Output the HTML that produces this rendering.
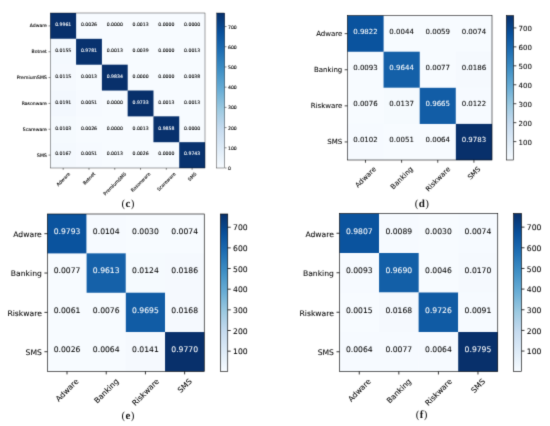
<!DOCTYPE html>
<html><head><meta charset="utf-8"><title>Confusion matrices</title>
<style>html,body{margin:0;padding:0;background:#fff}svg{display:block}#fig{width:550px;height:426px;overflow:hidden}</style>
</head><body>
<div id="fig">
<svg width="550" height="426" viewBox="0 0 550 426" text-rendering="geometricPrecision">
<defs><linearGradient id="bl" x1="0" y1="1" x2="0" y2="0">
<stop offset="0.0000" stop-color="#f7fbff"/>
<stop offset="0.0625" stop-color="#eaf3fb"/>
<stop offset="0.1250" stop-color="#deebf7"/>
<stop offset="0.1875" stop-color="#d2e3f3"/>
<stop offset="0.2500" stop-color="#c6dbef"/>
<stop offset="0.3125" stop-color="#b2d2e8"/>
<stop offset="0.3750" stop-color="#9dcae1"/>
<stop offset="0.4375" stop-color="#84bcdb"/>
<stop offset="0.5000" stop-color="#6aaed6"/>
<stop offset="0.5625" stop-color="#56a0ce"/>
<stop offset="0.6250" stop-color="#4191c6"/>
<stop offset="0.6875" stop-color="#3181bd"/>
<stop offset="0.7500" stop-color="#2070b4"/>
<stop offset="0.8125" stop-color="#1460a8"/>
<stop offset="0.8750" stop-color="#08509b"/>
<stop offset="0.9375" stop-color="#084082"/>
<stop offset="1.0000" stop-color="#08306b"/>
</linearGradient>
<filter id="soft" x="0" y="0" width="550" height="426" filterUnits="userSpaceOnUse" color-interpolation-filters="sRGB"><feConvolveMatrix order="3" kernelMatrix="0.01440 0.09120 0.01440 0.09120 0.57760 0.09120 0.01440 0.09120 0.01440" edgeMode="duplicate" preserveAlpha="true"/></filter></defs>
<g filter="url(#soft)">
<rect width="550" height="426" fill="#ffffff"/>
<g font-family="'DejaVu Sans','Liberation Sans',sans-serif" font-size="4.600" fill="#000" stroke="#000" stroke-width="0.100">
<rect x="50.30" y="13.00" width="154.70" height="155.00" fill="#f7fbff" stroke="none"/>
<rect x="50.30" y="13.00" width="25.83" height="25.88" fill="#08306b" stroke="none"/>
<rect x="50.30" y="38.83" width="25.83" height="25.88" fill="#f4f9fe" stroke="none"/>
<rect x="76.08" y="38.83" width="25.83" height="25.88" fill="#08326e" stroke="none"/>
<rect x="50.30" y="64.67" width="25.83" height="25.88" fill="#f5f9fe" stroke="none"/>
<rect x="101.87" y="64.67" width="25.83" height="25.88" fill="#08306b" stroke="none"/>
<rect x="50.30" y="90.50" width="25.83" height="25.88" fill="#f3f8fe" stroke="none"/>
<rect x="76.08" y="90.50" width="25.83" height="25.88" fill="#f6faff" stroke="none"/>
<rect x="127.65" y="90.50" width="25.83" height="25.88" fill="#08306b" stroke="none"/>
<rect x="50.30" y="116.33" width="25.83" height="25.88" fill="#f5fafe" stroke="none"/>
<rect x="153.43" y="116.33" width="25.83" height="25.88" fill="#08316d" stroke="none"/>
<rect x="50.30" y="142.17" width="25.83" height="25.88" fill="#f4f9fe" stroke="none"/>
<rect x="76.08" y="142.17" width="25.83" height="25.88" fill="#f6faff" stroke="none"/>
<rect x="179.22" y="142.17" width="25.83" height="25.88" fill="#08326e" stroke="none"/>
<text transform="translate(63.19 26.27)" text-anchor="middle" fill="#fff" stroke="#fff">0.9961</text>
<text transform="translate(88.97 26.27)" text-anchor="middle" fill="#000" stroke="#000">0.0026</text>
<text transform="translate(114.76 26.27)" text-anchor="middle" fill="#000" stroke="#000">0.0000</text>
<text transform="translate(140.54 26.27)" text-anchor="middle" fill="#000" stroke="#000">0.0013</text>
<text transform="translate(166.32 26.27)" text-anchor="middle" fill="#000" stroke="#000">0.0000</text>
<text transform="translate(192.11 26.27)" text-anchor="middle" fill="#000" stroke="#000">0.0000</text>
<text transform="translate(63.19 52.10)" text-anchor="middle" fill="#000" stroke="#000">0.0155</text>
<text transform="translate(88.97 52.10)" text-anchor="middle" fill="#fff" stroke="#fff">0.9781</text>
<text transform="translate(114.76 52.10)" text-anchor="middle" fill="#000" stroke="#000">0.0013</text>
<text transform="translate(140.54 52.10)" text-anchor="middle" fill="#000" stroke="#000">0.0039</text>
<text transform="translate(166.32 52.10)" text-anchor="middle" fill="#000" stroke="#000">0.0000</text>
<text transform="translate(192.11 52.10)" text-anchor="middle" fill="#000" stroke="#000">0.0013</text>
<text transform="translate(63.19 77.93)" text-anchor="middle" fill="#000" stroke="#000">0.0115</text>
<text transform="translate(88.97 77.93)" text-anchor="middle" fill="#000" stroke="#000">0.0013</text>
<text transform="translate(114.76 77.93)" text-anchor="middle" fill="#fff" stroke="#fff">0.9834</text>
<text transform="translate(140.54 77.93)" text-anchor="middle" fill="#000" stroke="#000">0.0000</text>
<text transform="translate(166.32 77.93)" text-anchor="middle" fill="#000" stroke="#000">0.0000</text>
<text transform="translate(192.11 77.93)" text-anchor="middle" fill="#000" stroke="#000">0.0038</text>
<text transform="translate(63.19 103.77)" text-anchor="middle" fill="#000" stroke="#000">0.0191</text>
<text transform="translate(88.97 103.77)" text-anchor="middle" fill="#000" stroke="#000">0.0051</text>
<text transform="translate(114.76 103.77)" text-anchor="middle" fill="#000" stroke="#000">0.0000</text>
<text transform="translate(140.54 103.77)" text-anchor="middle" fill="#fff" stroke="#fff">0.9733</text>
<text transform="translate(166.32 103.77)" text-anchor="middle" fill="#000" stroke="#000">0.0013</text>
<text transform="translate(192.11 103.77)" text-anchor="middle" fill="#000" stroke="#000">0.0013</text>
<text transform="translate(63.19 129.60)" text-anchor="middle" fill="#000" stroke="#000">0.0103</text>
<text transform="translate(88.97 129.60)" text-anchor="middle" fill="#000" stroke="#000">0.0026</text>
<text transform="translate(114.76 129.60)" text-anchor="middle" fill="#000" stroke="#000">0.0000</text>
<text transform="translate(140.54 129.60)" text-anchor="middle" fill="#000" stroke="#000">0.0013</text>
<text transform="translate(166.32 129.60)" text-anchor="middle" fill="#fff" stroke="#fff">0.9858</text>
<text transform="translate(192.11 129.60)" text-anchor="middle" fill="#000" stroke="#000">0.0000</text>
<text transform="translate(63.19 155.43)" text-anchor="middle" fill="#000" stroke="#000">0.0167</text>
<text transform="translate(88.97 155.43)" text-anchor="middle" fill="#000" stroke="#000">0.0051</text>
<text transform="translate(114.76 155.43)" text-anchor="middle" fill="#000" stroke="#000">0.0013</text>
<text transform="translate(140.54 155.43)" text-anchor="middle" fill="#000" stroke="#000">0.0026</text>
<text transform="translate(166.32 155.43)" text-anchor="middle" fill="#000" stroke="#000">0.0000</text>
<text transform="translate(192.11 155.43)" text-anchor="middle" fill="#fff" stroke="#fff">0.9743</text>
<rect x="50.30" y="13.00" width="154.70" height="155.00" fill="none" stroke="#000" stroke-width="0.368"/>
<text transform="translate(46.88 27.47)" text-anchor="end">Adware</text>
<text transform="translate(63.19 179.18) rotate(-45)" text-anchor="middle" y="1.66">Adware</text>
<text transform="translate(46.88 53.31)" text-anchor="end">Botnet</text>
<text transform="translate(88.97 178.52) rotate(-45)" text-anchor="middle" y="1.66">Botnet</text>
<text transform="translate(46.88 79.14)" text-anchor="end">PremiumSMS</text>
<text transform="translate(114.76 183.81) rotate(-45)" text-anchor="middle" y="1.66">PremiumSMS</text>
<text transform="translate(46.88 104.97)" text-anchor="end">Rasonware</text>
<text transform="translate(140.54 182.03) rotate(-45)" text-anchor="middle" y="1.66">Rasonware</text>
<text transform="translate(46.88 130.81)" text-anchor="end">Scareware</text>
<text transform="translate(166.32 181.62) rotate(-45)" text-anchor="middle" y="1.66">Scareware</text>
<text transform="translate(46.88 156.64)" text-anchor="end">SMS</text>
<text transform="translate(192.11 176.57) rotate(-45)" text-anchor="middle" y="1.66">SMS</text>
<rect x="216.75" y="13.00" width="8.00" height="155.00" fill="url(#bl)" stroke="#000" stroke-width="0.368"/>
<text transform="translate(227.97 170.06)">0</text>
<text transform="translate(227.97 149.85)">100</text>
<text transform="translate(227.97 129.64)">200</text>
<text transform="translate(227.97 109.43)">300</text>
<text transform="translate(227.97 89.22)">400</text>
<text transform="translate(227.97 69.01)">500</text>
<text transform="translate(227.97 48.80)">600</text>
<text transform="translate(227.97 28.60)">700</text>
<path d="M50.30 25.92h-1.79M63.19 168.00v1.79M50.30 51.75h-1.79M88.97 168.00v1.79M50.30 77.58h-1.79M114.76 168.00v1.79M50.30 103.42h-1.79M140.54 168.00v1.79M50.30 129.25h-1.79M166.32 168.00v1.79M50.30 155.08h-1.79M192.11 168.00v1.79M224.75 168.00h1.79M224.75 147.79h1.79M224.75 127.58h1.79M224.75 107.37h1.79M224.75 87.17h1.79M224.75 66.96h1.79M224.75 46.75h1.79M224.75 26.54h1.79" stroke="#000" stroke-width="0.478" fill="none"/>
</g>
<text x="128.10" y="207.20" text-anchor="middle" font-family="'Liberation Serif','DejaVu Serif',serif" font-size="11" letter-spacing="0.35" fill="#111">(<tspan font-weight="bold">c</tspan>)</text>
<g font-family="'DejaVu Sans','Liberation Sans',sans-serif" font-size="7.000" fill="#000" stroke="#000" stroke-width="0.060">
<rect x="347.40" y="15.60" width="144.60" height="144.40" fill="#f7fbff" stroke="none"/>
<rect x="347.40" y="15.60" width="36.20" height="36.15" fill="#0a539e" stroke="none"/>
<rect x="383.55" y="51.70" width="36.20" height="36.15" fill="#1460a8" stroke="none"/>
<rect x="455.85" y="51.70" width="36.20" height="36.15" fill="#f5f9fe" stroke="none"/>
<rect x="383.55" y="87.80" width="36.20" height="36.15" fill="#f5fafe" stroke="none"/>
<rect x="419.70" y="87.80" width="36.20" height="36.15" fill="#125da6" stroke="none"/>
<rect x="455.85" y="87.80" width="36.20" height="36.15" fill="#f6faff" stroke="none"/>
<rect x="347.40" y="123.90" width="36.20" height="36.15" fill="#f6faff" stroke="none"/>
<rect x="455.85" y="123.90" width="36.20" height="36.15" fill="#08306b" stroke="none"/>
<text transform="translate(365.47 33.60)" text-anchor="middle" fill="#fff" stroke="#fff">0.9822</text>
<text transform="translate(401.62 33.60)" text-anchor="middle" fill="#000" stroke="#000">0.0044</text>
<text transform="translate(437.77 33.60)" text-anchor="middle" fill="#000" stroke="#000">0.0059</text>
<text transform="translate(473.93 33.60)" text-anchor="middle" fill="#000" stroke="#000">0.0074</text>
<text transform="translate(365.47 69.70)" text-anchor="middle" fill="#000" stroke="#000">0.0093</text>
<text transform="translate(401.62 69.70)" text-anchor="middle" fill="#fff" stroke="#fff">0.9644</text>
<text transform="translate(437.77 69.70)" text-anchor="middle" fill="#000" stroke="#000">0.0077</text>
<text transform="translate(473.93 69.70)" text-anchor="middle" fill="#000" stroke="#000">0.0186</text>
<text transform="translate(365.47 105.80)" text-anchor="middle" fill="#000" stroke="#000">0.0076</text>
<text transform="translate(401.62 105.80)" text-anchor="middle" fill="#000" stroke="#000">0.0137</text>
<text transform="translate(437.77 105.80)" text-anchor="middle" fill="#fff" stroke="#fff">0.9665</text>
<text transform="translate(473.93 105.80)" text-anchor="middle" fill="#000" stroke="#000">0.0122</text>
<text transform="translate(365.47 141.90)" text-anchor="middle" fill="#000" stroke="#000">0.0102</text>
<text transform="translate(401.62 141.90)" text-anchor="middle" fill="#000" stroke="#000">0.0051</text>
<text transform="translate(437.77 141.90)" text-anchor="middle" fill="#000" stroke="#000">0.0064</text>
<text transform="translate(473.93 141.90)" text-anchor="middle" fill="#fff" stroke="#fff">0.9783</text>
<rect x="347.40" y="15.60" width="144.60" height="144.40" fill="none" stroke="#000" stroke-width="0.560"/>
<text transform="translate(342.30 36.12)" text-anchor="end">Adware</text>
<text transform="translate(365.47 177.02) rotate(-45)" text-anchor="middle" y="2.52">Adware</text>
<text transform="translate(342.30 72.22)" text-anchor="end">Banking</text>
<text transform="translate(401.62 177.81) rotate(-45)" text-anchor="middle" y="2.52">Banking</text>
<text transform="translate(342.30 108.32)" text-anchor="end">Riskware</text>
<text transform="translate(437.77 178.93) rotate(-45)" text-anchor="middle" y="2.52">Riskware</text>
<text transform="translate(342.30 144.42)" text-anchor="end">SMS</text>
<text transform="translate(473.93 173.05) rotate(-45)" text-anchor="middle" y="2.52">SMS</text>
<rect x="506.40" y="15.60" width="7.20" height="144.40" fill="url(#bl)" stroke="#000" stroke-width="0.560"/>
<text transform="translate(518.50 144.54)">100</text>
<text transform="translate(518.50 125.59)">200</text>
<text transform="translate(518.50 106.64)">300</text>
<text transform="translate(518.50 87.69)">400</text>
<text transform="translate(518.50 68.74)">500</text>
<text transform="translate(518.50 49.79)">600</text>
<text transform="translate(518.50 30.84)">700</text>
<path d="M347.40 33.65h-2.73M365.47 160.00v2.73M347.40 69.75h-2.73M401.62 160.00v2.73M347.40 105.85h-2.73M437.77 160.00v2.73M347.40 141.95h-2.73M473.93 160.00v2.73M513.60 141.62h2.73M513.60 122.67h2.73M513.60 103.72h2.73M513.60 84.77h2.73M513.60 65.82h2.73M513.60 46.87h2.73M513.60 27.92h2.73" stroke="#000" stroke-width="0.728" fill="none"/>
</g>
<text x="422.00" y="207.20" text-anchor="middle" font-family="'Liberation Serif','DejaVu Serif',serif" font-size="11" letter-spacing="0.35" fill="#111">(<tspan font-weight="bold">d</tspan>)</text>
<g font-family="'DejaVu Sans','Liberation Sans',sans-serif" font-size="7.650" fill="#000" stroke="#000" stroke-width="0.060">
<rect x="47.40" y="214.00" width="156.85" height="157.40" fill="#f7fbff" stroke="none"/>
<rect x="47.40" y="214.00" width="39.26" height="39.40" fill="#0a539e" stroke="none"/>
<rect x="86.61" y="214.00" width="39.26" height="39.40" fill="#f6faff" stroke="none"/>
<rect x="86.61" y="253.35" width="39.26" height="39.40" fill="#1561a9" stroke="none"/>
<rect x="125.82" y="253.35" width="39.26" height="39.40" fill="#f5fafe" stroke="none"/>
<rect x="165.04" y="253.35" width="39.26" height="39.40" fill="#f5f9fe" stroke="none"/>
<rect x="125.82" y="292.70" width="39.26" height="39.40" fill="#115ca5" stroke="none"/>
<rect x="165.04" y="292.70" width="39.26" height="39.40" fill="#f5f9fe" stroke="none"/>
<rect x="125.82" y="332.05" width="39.26" height="39.40" fill="#f5f9fe" stroke="none"/>
<rect x="165.04" y="332.05" width="39.26" height="39.40" fill="#08306b" stroke="none"/>
<text transform="translate(67.01 233.83)" text-anchor="middle" fill="#fff" stroke="#fff">0.9793</text>
<text transform="translate(106.22 233.83)" text-anchor="middle" fill="#000" stroke="#000">0.0104</text>
<text transform="translate(145.43 233.83)" text-anchor="middle" fill="#000" stroke="#000">0.0030</text>
<text transform="translate(184.64 233.83)" text-anchor="middle" fill="#000" stroke="#000">0.0074</text>
<text transform="translate(67.01 273.17)" text-anchor="middle" fill="#000" stroke="#000">0.0077</text>
<text transform="translate(106.22 273.17)" text-anchor="middle" fill="#fff" stroke="#fff">0.9613</text>
<text transform="translate(145.43 273.17)" text-anchor="middle" fill="#000" stroke="#000">0.0124</text>
<text transform="translate(184.64 273.17)" text-anchor="middle" fill="#000" stroke="#000">0.0186</text>
<text transform="translate(67.01 312.52)" text-anchor="middle" fill="#000" stroke="#000">0.0061</text>
<text transform="translate(106.22 312.52)" text-anchor="middle" fill="#000" stroke="#000">0.0076</text>
<text transform="translate(145.43 312.52)" text-anchor="middle" fill="#fff" stroke="#fff">0.9695</text>
<text transform="translate(184.64 312.52)" text-anchor="middle" fill="#000" stroke="#000">0.0168</text>
<text transform="translate(67.01 351.87)" text-anchor="middle" fill="#000" stroke="#000">0.0026</text>
<text transform="translate(106.22 351.87)" text-anchor="middle" fill="#000" stroke="#000">0.0064</text>
<text transform="translate(145.43 351.87)" text-anchor="middle" fill="#000" stroke="#000">0.0141</text>
<text transform="translate(184.64 351.87)" text-anchor="middle" fill="#fff" stroke="#fff">0.9770</text>
<rect x="47.40" y="214.00" width="156.85" height="157.40" fill="none" stroke="#000" stroke-width="0.612"/>
<text transform="translate(41.84 236.88)" text-anchor="end">Adware</text>
<text transform="translate(67.01 390.00) rotate(-45)" text-anchor="middle" y="2.75">Adware</text>
<text transform="translate(41.84 276.23)" text-anchor="end">Banking</text>
<text transform="translate(106.22 390.87) rotate(-45)" text-anchor="middle" y="2.75">Banking</text>
<text transform="translate(41.84 315.58)" text-anchor="end">Riskware</text>
<text transform="translate(145.43 392.09) rotate(-45)" text-anchor="middle" y="2.75">Riskware</text>
<text transform="translate(41.84 354.93)" text-anchor="end">SMS</text>
<text transform="translate(184.64 385.66) rotate(-45)" text-anchor="middle" y="2.75">SMS</text>
<rect x="220.50" y="214.00" width="7.25" height="157.40" fill="url(#bl)" stroke="#000" stroke-width="0.612"/>
<text transform="translate(233.10 354.31)">100</text>
<text transform="translate(233.10 333.65)">200</text>
<text transform="translate(233.10 313.00)">300</text>
<text transform="translate(233.10 292.34)">400</text>
<text transform="translate(233.10 271.69)">500</text>
<text transform="translate(233.10 251.03)">600</text>
<text transform="translate(233.10 230.37)">700</text>
<path d="M47.40 233.68h-2.98M67.01 371.40v2.98M47.40 273.02h-2.98M106.22 371.40v2.98M47.40 312.38h-2.98M145.43 371.40v2.98M47.40 351.72h-2.98M184.64 371.40v2.98M227.75 351.16h2.98M227.75 330.50h2.98M227.75 309.84h2.98M227.75 289.19h2.98M227.75 268.53h2.98M227.75 247.88h2.98M227.75 227.22h2.98" stroke="#000" stroke-width="0.796" fill="none"/>
</g>
<text x="128.10" y="418.80" text-anchor="middle" font-family="'Liberation Serif','DejaVu Serif',serif" font-size="11" letter-spacing="0.35" fill="#111">(<tspan font-weight="bold">e</tspan>)</text>
<g font-family="'DejaVu Sans','Liberation Sans',sans-serif" font-size="7.650" fill="#000" stroke="#000" stroke-width="0.060">
<rect x="339.50" y="213.50" width="158.25" height="158.00" fill="#f7fbff" stroke="none"/>
<rect x="339.50" y="213.50" width="39.61" height="39.55" fill="#0a539e" stroke="none"/>
<rect x="379.06" y="213.50" width="39.61" height="39.55" fill="#f6faff" stroke="none"/>
<rect x="458.19" y="213.50" width="39.61" height="39.55" fill="#f6faff" stroke="none"/>
<rect x="339.50" y="253.00" width="39.61" height="39.55" fill="#f6faff" stroke="none"/>
<rect x="379.06" y="253.00" width="39.61" height="39.55" fill="#135fa7" stroke="none"/>
<rect x="458.19" y="253.00" width="39.61" height="39.55" fill="#f5f9fe" stroke="none"/>
<rect x="379.06" y="292.50" width="39.61" height="39.55" fill="#f5f9fe" stroke="none"/>
<rect x="418.62" y="292.50" width="39.61" height="39.55" fill="#105ba4" stroke="none"/>
<rect x="458.19" y="292.50" width="39.61" height="39.55" fill="#f6faff" stroke="none"/>
<rect x="339.50" y="332.00" width="39.61" height="39.55" fill="#f6faff" stroke="none"/>
<rect x="379.06" y="332.00" width="39.61" height="39.55" fill="#f6faff" stroke="none"/>
<rect x="418.62" y="332.00" width="39.61" height="39.55" fill="#f6faff" stroke="none"/>
<rect x="458.19" y="332.00" width="39.61" height="39.55" fill="#08306b" stroke="none"/>
<text transform="translate(359.28 233.65)" text-anchor="middle" fill="#fff" stroke="#fff">0.9807</text>
<text transform="translate(398.84 233.65)" text-anchor="middle" fill="#000" stroke="#000">0.0089</text>
<text transform="translate(438.41 233.65)" text-anchor="middle" fill="#000" stroke="#000">0.0030</text>
<text transform="translate(477.97 233.65)" text-anchor="middle" fill="#000" stroke="#000">0.0074</text>
<text transform="translate(359.28 273.15)" text-anchor="middle" fill="#000" stroke="#000">0.0093</text>
<text transform="translate(398.84 273.15)" text-anchor="middle" fill="#fff" stroke="#fff">0.9690</text>
<text transform="translate(438.41 273.15)" text-anchor="middle" fill="#000" stroke="#000">0.0046</text>
<text transform="translate(477.97 273.15)" text-anchor="middle" fill="#000" stroke="#000">0.0170</text>
<text transform="translate(359.28 312.65)" text-anchor="middle" fill="#000" stroke="#000">0.0015</text>
<text transform="translate(398.84 312.65)" text-anchor="middle" fill="#000" stroke="#000">0.0168</text>
<text transform="translate(438.41 312.65)" text-anchor="middle" fill="#fff" stroke="#fff">0.9726</text>
<text transform="translate(477.97 312.65)" text-anchor="middle" fill="#000" stroke="#000">0.0091</text>
<text transform="translate(359.28 352.15)" text-anchor="middle" fill="#000" stroke="#000">0.0064</text>
<text transform="translate(398.84 352.15)" text-anchor="middle" fill="#000" stroke="#000">0.0077</text>
<text transform="translate(438.41 352.15)" text-anchor="middle" fill="#000" stroke="#000">0.0064</text>
<text transform="translate(477.97 352.15)" text-anchor="middle" fill="#fff" stroke="#fff">0.9795</text>
<rect x="339.50" y="213.50" width="158.25" height="158.00" fill="none" stroke="#000" stroke-width="0.612"/>
<text transform="translate(333.94 236.85)" text-anchor="end">Adware</text>
<text transform="translate(359.28 390.10) rotate(-45)" text-anchor="middle" y="2.75">Adware</text>
<text transform="translate(333.94 276.35)" text-anchor="end">Banking</text>
<text transform="translate(398.84 390.97) rotate(-45)" text-anchor="middle" y="2.75">Banking</text>
<text transform="translate(333.94 315.85)" text-anchor="end">Riskware</text>
<text transform="translate(438.41 392.19) rotate(-45)" text-anchor="middle" y="2.75">Riskware</text>
<text transform="translate(333.94 355.35)" text-anchor="end">SMS</text>
<text transform="translate(477.97 385.76) rotate(-45)" text-anchor="middle" y="2.75">SMS</text>
<rect x="513.60" y="213.50" width="7.90" height="158.00" fill="url(#bl)" stroke="#000" stroke-width="0.612"/>
<text transform="translate(526.86 354.21)">100</text>
<text transform="translate(526.86 333.55)">200</text>
<text transform="translate(526.86 312.90)">300</text>
<text transform="translate(526.86 292.25)">400</text>
<text transform="translate(526.86 271.59)">500</text>
<text transform="translate(526.86 250.94)">600</text>
<text transform="translate(526.86 230.29)">700</text>
<path d="M339.50 233.25h-2.98M359.28 371.50v2.98M339.50 272.75h-2.98M398.84 371.50v2.98M339.50 312.25h-2.98M438.41 371.50v2.98M339.50 351.75h-2.98M477.97 371.50v2.98M521.50 351.05h2.98M521.50 330.40h2.98M521.50 309.75h2.98M521.50 289.09h2.98M521.50 268.44h2.98M521.50 247.78h2.98M521.50 227.13h2.98" stroke="#000" stroke-width="0.796" fill="none"/>
</g>
<text x="421.80" y="417.90" text-anchor="middle" font-family="'Liberation Serif','DejaVu Serif',serif" font-size="11" letter-spacing="0.35" fill="#111">(<tspan font-weight="bold">f</tspan>)</text>
</g></svg>
</div>
</body></html>
